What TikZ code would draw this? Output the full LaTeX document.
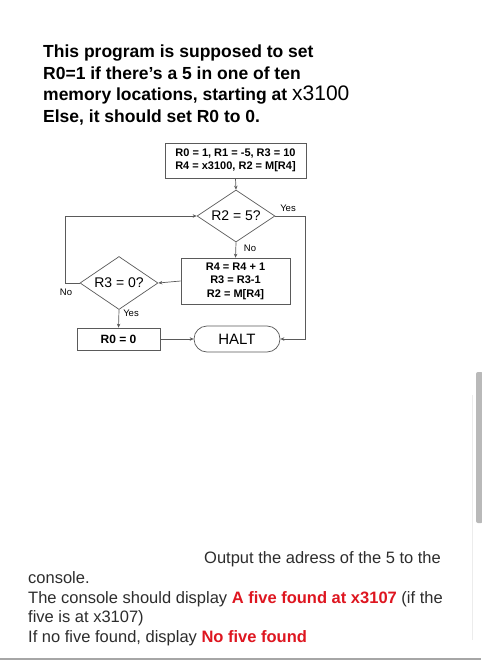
\documentclass[tikz,border=0pt]{standalone}
\usepackage{fontspec}
\setmainfont{Liberation Sans}
\usetikzlibrary{shapes.geometric,shapes.misc,arrows.meta}
\definecolor{redtxt}{RGB}{222,22,32}
\definecolor{gtxt}{RGB}{45,45,45}
\definecolor{lin}{RGB}{90,90,90}
\tikzset{
  title/.style={anchor=base west,inner sep=0,font=\fontsize{17.5}{19}\selectfont\bfseries},
  body/.style={anchor=base west,inner sep=0,text=gtxt,font=\fontsize{16.5}{18}\selectfont},
  boxn/.style={draw=lin,line width=0.7pt,align=center,inner sep=0,font=\fontsize{11}{12.5}\selectfont\bfseries},
  dia/.style={diamond,draw=lin,line width=0.7pt,inner sep=0,aspect=1.5,font=\fontsize{14}{15}\selectfont},
  lbl/.style={inner sep=0,font=\fontsize{9.5}{10}\selectfont},
  conn/.style={draw=lin,line width=0.7pt,-{Stealth[length=4pt,width=3.5pt]}},
  plain/.style={draw=lin,line width=0.7pt}
}
\begin{document}
\begin{tikzpicture}[x=1pt,y=-1pt]
\useasboundingbox[fill=white] (0,0) rectangle (481,660);
% title
\node[title] (t1) at (43,58) {This program is supposed to set};
\node[title] (t2) at (43,80) {R0=1 if there’s a 5 in one of ten};
\node[title] (t3) at (43,101) {memory locations, starting at {\fontsize{21}{21}\selectfont\mdseries x3100}};
\node[title] (t4) at (43,123) {Else, it should set R0 to 0.};
% flowchart
\node[boxn,minimum width=141pt,minimum height=35pt] (init) at (235.5,160.5) {R0 = 1, R1 = -5, R3 = 10\\R4 = x3100, R2 = M[R4]};
\node[dia,minimum width=78pt,minimum height=52pt] (d1) at (236,216) {R2 = 5?};
\node[boxn,minimum width=109pt,minimum height=46pt,font=\fontsize{11}{13.5}\selectfont\bfseries] (proc) at (235.5,281) {R4 = R4 + 1\\R3 = R3-1\\R2 = M[R4]};
\node[dia,minimum width=78pt,minimum height=53pt] (d2) at (119,283) {R3 = 0?};
\node[boxn,minimum width=83pt,minimum height=22pt,font=\fontsize{12}{13}\selectfont\bfseries] (r0) at (118.5,339) {R0 = 0};
\node[draw=lin,line width=0.7pt,rounded rectangle,minimum width=86pt,minimum height=26pt,inner sep=0,font=\fontsize{15}{16}\selectfont] (halt) at (237,339) {HALT};
\coordinate (c1) at (305,216);
\coordinate (c2) at (305,339);
\coordinate (c3) at (65,283);
\coordinate (c4) at (65,216);
\draw[conn] (init.south) -- (d1.north);
\draw[conn] (d1.south) -- (proc.north);
\draw[conn] (proc.west) -- (d2.east);
\draw[conn] (d2.south) -- (r0.north);
\draw[conn] (r0.east) -- (halt.west);
\draw[conn] (d1.east) -- (c1) -- (c2) -- (halt.east);
\draw[conn] (d2.west) -- (c3) -- (c4) -- (d1.west);
\node[lbl] (y1) at (288,208) {Yes};
\node[lbl] (n1) at (250,248) {No};
\node[lbl] (n2) at (66,292) {No};
\node[lbl] (y2) at (131,313) {Yes};
% bottom text
\node[body] (b1) at (204,563) {Output the adress of the 5 to the};
\node[body] (b2) at (28,583) {console.};
\node[body] (b3) at (28,603) {The console should display \textcolor{redtxt}{\bfseries A five found at x3107} (if the};
\node[body] (b4) at (28,622) {five is at x3107)};
\node[body] (b5) at (28,642) {If no five found, display \textcolor{redtxt}{\bfseries No five found}};
% scrollbar and bottom rule
\draw[gray!15,line width=0.6pt] (472,395) -- (472,640);
\fill[gray!55,rounded corners=2pt] (476,372) rectangle (483,523);
\fill[gray!70] (0,657.5) rectangle (481,660);
\end{tikzpicture}
\end{document}
